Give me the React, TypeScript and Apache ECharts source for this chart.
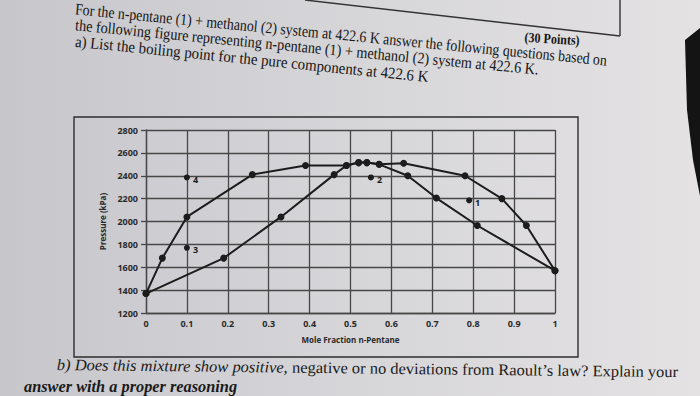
import React, { useEffect, useRef } from "react";
import * as echarts from "echarts";

// Bubble (upper) curve: mole fraction n-pentane vs pressure (kPa)
const upperX = [0, 0.04, 0.1, 0.26, 0.39, 0.49, 0.52, 0.54, 0.57, 0.63, 0.78, 0.87, 0.93, 1.0];
const upperP = [1370, 1680, 2040, 2410, 2490, 2490, 2515, 2515, 2500, 2510, 2400, 2200, 1965, 1570];
// Dew (lower) curve
const lowerX = [0, 0.19, 0.33, 0.46, 0.49, 0.52, 0.54, 0.57, 0.64, 0.71, 0.81, 1.0];
const lowerP = [1370, 1680, 2040, 2410, 2490, 2515, 2515, 2500, 2400, 2205, 1965, 1570];
// Labelled state points
const pointLabels = ["1", "2", "3", "4"];
const pointX = [0.79, 0.55, 0.1, 0.1];
const pointP = [2185, 2385, 1770, 2385];

const headerLine1 = "For the n-pentane (1) + methanol (2) system at 422.6 K answer the following questions based on";
const headerLine2 = "the following figure representing n-pentane (1) + methanol (2) system at 422.6 K.";
const headerLine3 = "a) List the boiling point for the pure components at 422.6 K";
const pointsText = "(30 Points)";
const questionB1 = "b) Does this mixture show positive,";
const questionB2 = " negative or no deviations from Raoult\u2019s law? Explain your";
const questionB3 = "answer with a proper reasoning";

export default function App() {
  const ref = useRef<HTMLDivElement>(null);
  useEffect(() => {
    if (!ref.current) return;
    const chart = echarts.init(ref.current, null, { renderer: "svg" });
    const ink = "#1c1c1c";
    const grid = "#474747";
    const labelFont = { fontFamily: "Open Sans", fontWeight: "bold" as const, fontSize: 9, color: "#2a2a2a" };
    const serif = "Liberation Serif";
    chart.setOption({
      animation: false,
      backgroundColor: new echarts.graphic.LinearGradient(0, 0, 1, 0, [
        { offset: 0, color: "#c7c6cb" },
        { offset: 0.5, color: "#d6d5d8" },
        { offset: 1, color: "#e4e2e3" },
      ]),
      grid: { left: 146, right: 145, top: 130, bottom: 83 },
      xAxis: {
        type: "value",
        min: 0,
        max: 1,
        interval: 0.1,
        name: "Mole Fraction n-Pentane",
        nameLocation: "middle",
        nameGap: 22,
        nameTextStyle: { ...labelFont, fontSize: 8 },
        axisLine: { show: true, lineStyle: { color: grid, width: 1.3 } },
        axisTick: { show: false },
        axisLabel: { ...labelFont, margin: 6, formatter: (v: number) => String(Math.round(v * 10) / 10) },
        splitLine: { show: true, lineStyle: { color: grid, width: 1.3 } },
      },
      yAxis: {
        type: "value",
        min: 1200,
        max: 2800,
        interval: 200,
        name: "Pressure (kPa)",
        nameLocation: "middle",
        nameGap: 36,
        nameRotate: 90,
        nameTextStyle: { ...labelFont, fontSize: 8 },
        axisLine: { show: true, lineStyle: { color: grid, width: 1.3 } },
        axisTick: { show: true, length: 5, lineStyle: { color: grid, width: 1.3 } },
        axisLabel: { ...labelFont, margin: 8, formatter: (v: number) => String(v) },
        splitLine: { show: true, lineStyle: { color: grid, width: 1.3 } },
      },
      series: [
        {
          name: "Bubble line",
          type: "line",
          data: upperX.map((x, i) => [x, upperP[i]]),
          symbol: "circle",
          symbolSize: 7,
          itemStyle: { color: ink },
          lineStyle: { color: ink, width: 2 },
          z: 3,
        },
        {
          name: "Dew line",
          type: "line",
          data: lowerX.map((x, i) => [x, lowerP[i]]),
          symbol: "circle",
          symbolSize: 7,
          itemStyle: { color: ink },
          lineStyle: { color: ink, width: 2 },
          z: 3,
        },
        {
          name: "Points",
          type: "scatter",
          data: pointX.map((x, i) => [x, pointP[i]]),
          symbolSize: 6,
          itemStyle: { color: ink, opacity: 1 },
          label: {
            show: true,
            position: "right",
            distance: 3,
            offset: [0, 2],
            formatter: (p: any) => pointLabels[p.dataIndex],
            fontFamily: "Open Sans",
            fontWeight: "bold",
            fontSize: 9,
            color: ink,
          },
          z: 4,
        },
      ],
      graphic: [
        // chart frame
        {
          type: "rect",
          shape: { x: 74, y: 117, width: 504, height: 240 },
          style: { fill: "none", stroke: "#2e2e2e", lineWidth: 1.4 },
          silent: true,
        },
        // header box edges
        {
          type: "line",
          shape: { x1: 305, y1: 0, x2: 620, y2: 36 },
          style: { stroke: "#333", lineWidth: 1.4 },
        },
        {
          type: "line",
          shape: { x1: 620, y1: 0, x2: 620, y2: 36 },
          style: { stroke: "#333", lineWidth: 1.4 },
        },
        // dark corner at the right edge of the photo
        {
          type: "polygon",
          shape: { points: [[685, 40], [700, 28], [700, 196], [693, 160], [687, 110]] },
          style: { fill: "#141414" },
        },
        {
          type: "text",
          x: 76,
          y: 1,
          rotation: -0.096,
          scaleX: 0.865,
          style: { text: headerLine1, font: `16px "${serif}"`, fill: "#161616" },
        },
        {
          type: "text",
          x: 76,
          y: 17,
          rotation: -0.096,
          scaleX: 0.89,
          style: { text: headerLine2, font: `16px "${serif}"`, fill: "#161616" },
        },
        {
          type: "text",
          x: 76,
          y: 33,
          rotation: -0.1,
          scaleX: 0.93,
          style: { text: headerLine3, font: `16px "${serif}"`, fill: "#161616" },
        },
        {
          type: "text",
          x: 525,
          y: 30,
          rotation: -0.06,
          scaleX: 0.86,
          style: { text: pointsText, font: `bold 14px "${serif}"`, fill: "#161616" },
        },
        {
          type: "text",
          x: 57,
          y: 357,
          rotation: -0.012,
          scaleX: 1.03,
          style: {
            text: `{i|${questionB1}}{n|${questionB2}}`,
            rich: {
              i: { font: `italic 16px "${serif}"`, fill: "#1a1a1a" },
              n: { font: `16px "${serif}"`, fill: "#1a1a1a" },
            },
          },
        },
        {
          type: "text",
          x: 24,
          y: 379,
          scaleX: 1.02,
          style: { text: questionB3, font: `italic bold 16px "${serif}"`, fill: "#1a1a1a" },
        },
      ],
    });
    return () => chart.dispose();
  }, []);
  return (
    <div
      ref={ref}
      style={{ position: "fixed", left: 0, top: 0, width: 700, height: 396 }}
    />
  );
}
